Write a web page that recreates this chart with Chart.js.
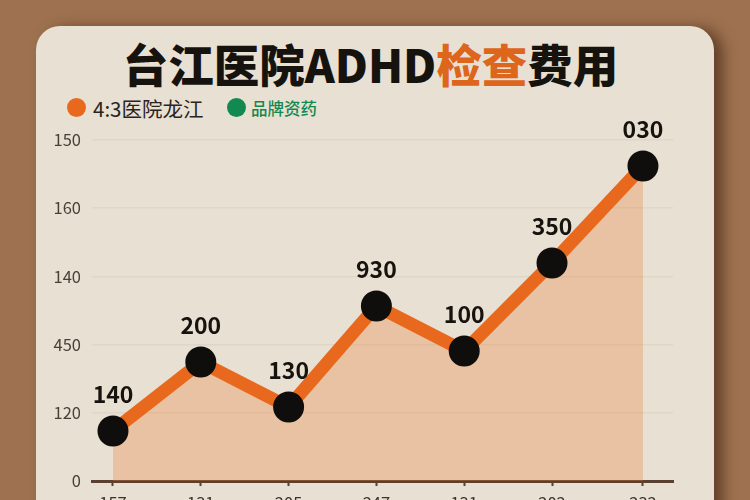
<!DOCTYPE html>
<html lang="zh">
<head>
<meta charset="utf-8">
<title>台江医院ADHD检查费用</title>
<script src="https://cdn.jsdelivr.net/npm/chart.js@4"></script>
<style>
    html, body { margin: 0; width: 750px; height: 500px; overflow: hidden; background: #9e7250; }
    body { position: relative; font-family: "Noto Sans CJK SC", "Noto Sans", sans-serif; }
    #card {
        position: absolute; left: 36px; top: 26px; width: 678px; height: 520px;
        background: #e8e0d3; border-radius: 24px;
        box-shadow: 9px 2px 14px rgba(60, 32, 14, 0.6);
    }
    #title {
        position: absolute; left: 0; top: 29px; width: 741px; text-align: center;
        font-size: 45.5px; font-weight: 900; line-height: 68px; color: #16120e; white-space: nowrap;
    }
    #title span { color: #dd651c; }
    .swatch { position: absolute; top: 98px; width: 19px; height: 19px; border-radius: 50%; }
    .name { position: absolute; top: 94px; line-height: 28px; white-space: nowrap; }
    #chart { position: absolute; left: 0; top: 0; }
</style>
</head>
<body>
<div id="card"></div>
<div id="title">台江医院ADHD<span>检查</span>费用</div>
<div class="swatch" style="left:67px" id="swatch0"></div>
<div class="name" style="left:93px;font-size:20.5px;color:#2a241e" id="name0"></div>
<div class="swatch" style="left:227px" id="swatch1"></div>
<div class="name" style="left:251px;font-size:16.5px;font-weight:500" id="name1"></div>
<canvas id="chart" width="750" height="500"></canvas>
<script>
'use strict';

const categories  = ['157', '131', '205', '247', '131', '202', '232'];
const xSteps      = [0, 1, 2, 3, 4, 5, 6.036];
const seriesNames = ['4:3医院龙江', '品牌资药'];
const hospital    = [36.7, 87.2, 54.2, 128.3, 95.3, 159.8, 230.9];
const brand       = [];
const valueLabels = ['140', '200', '130', '930', '100', '350', '030'];
const yTickLabels = ['0', '120', '450', '140', '160', '150'];

const ORANGE = '#e8691d';
const GREEN  = '#12894f';
const BROWN  = '#5a4030';

document.getElementById('swatch0').style.background = ORANGE;
document.getElementById('swatch1').style.background = GREEN;
document.getElementById('name0').textContent = seriesNames[0];
document.getElementById('name1').textContent = seriesNames[1];
document.getElementById('name1').style.color = GREEN;

const tickFont = {family: '"Noto Sans CJK SC", "Noto Sans", sans-serif', size: 16.5};

/*
 * Draws the figure above each point.
 */
const valueLabelPlugin = {
    id: 'valueLabels',
    afterDatasetsDraw(chart) {
        let ctx  = chart.ctx;
        let meta = chart.getDatasetMeta(0);

        ctx.save();
        ctx.font         = 'bold 23px "Noto Sans CJK SC", "Noto Sans", sans-serif';
        ctx.fillStyle    = '#16120e';
        ctx.textAlign    = 'center';
        ctx.textBaseline = 'middle';
        meta.data.forEach((point, i) => {
            ctx.fillText(valueLabels[i], point.x, point.y - 37);
        });
        ctx.restore();
    }
};

new Chart(document.getElementById('chart'), {
    type: 'line',
    data: {
        datasets: [{
                label: seriesNames[0],
                data: hospital.map((v, i) => ({x: xSteps[i], y: v})),
                borderColor: ORANGE,
                borderWidth: 13,
                borderJoinStyle: 'miter',
                backgroundColor: 'rgba(232, 125, 50, 0.3)',
                fill: 'origin',
                tension: 0,
                pointRadius: 15.5,
                pointBorderWidth: 0,
                pointBackgroundColor: '#100e0c'
            }, {
                label: seriesNames[1],
                data: brand,
                borderColor: GREEN,
                backgroundColor: GREEN
            }]
    },
    options: {
        responsive: false,
        animation: false,
        devicePixelRatio: 1,
        layout: {padding: {top: 140, right: 77, left: 0, bottom: 0}},
        plugins: {
            legend: {display: false},
            title: {display: false},
            tooltip: {enabled: false}
        },
        scales: {
            x: {
                type: 'linear',
                min: -0.239,
                max: 6.378,
                afterBuildTicks: scale => {
                    scale.ticks = xSteps.map(v => ({value: v}));
                },
                afterFit: scale => {
                    scale.height = 19;
                    scale.paddingLeft = 0;
                    scale.paddingRight = 0;
                },
                ticks: {
                    autoSkip: false,
                    maxRotation: 0,
                    padding: 7,
                    color: '#3d332a',
                    font: tickFont,
                    callback: value => categories[xSteps.indexOf(value)]
                },
                grid: {
                    drawOnChartArea: false,
                    tickLength: 5,
                    tickWidth: 2,
                    tickColor: BROWN
                },
                border: {color: BROWN, width: 3}
            },
            y: {
                min: 0,
                max: 250,
                afterFit: scale => {
                    scale.width = 92;
                    scale.paddingTop = 0;
                    scale.paddingBottom = 0;
                },
                ticks: {
                    stepSize: 50,
                    padding: 11,
                    color: '#4a3f35',
                    font: tickFont,
                    callback: value => yTickLabels[value / 50]
                },
                grid: {
                    color: 'rgba(120, 90, 60, 0.07)',
                    lineWidth: 1.5,
                    drawTicks: false
                },
                border: {display: false}
            }
        }
    },
    plugins: [valueLabelPlugin]
});
</script>
</body>
</html>
